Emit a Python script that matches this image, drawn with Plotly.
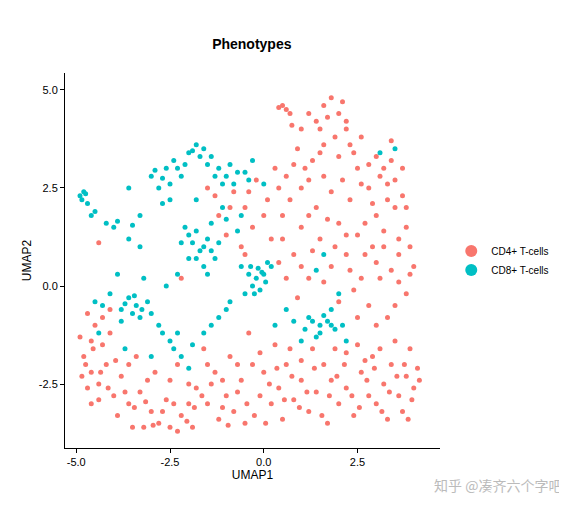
import plotly.graph_objects as go

red_pts = [(-4.8,-1.8),(-4.6,-2.2),(-4.4,-2.5),(-4.7,-2.6),(-4.2,-2.0),(-4.9,-1.3),(-4.5,-1.0),(-4.3,-1.5),(-4.0,-2.8),(-3.8,-2.3),(-3.6,-3.0),(-3.9,-3.3),(-3.3,-2.7),(-3.0,-3.2),(-2.8,-3.5),(-2.5,-3.6),(-2.2,-3.3),(-2.6,-2.9),(-3.2,-3.6),(-2.0,-3.0),(-1.8,-2.6),(-1.5,-3.0),(-1.2,-3.4),(-1.0,-2.8),(-0.8,-3.2),(-0.5,-3.5),(-0.6,-2.4),(-0.3,-2.0),(-0.9,-1.8),(-1.3,-2.2),(-0.1,-2.8),(0.2,-3.0),(0.0,-2.2),(0.4,-2.6),(0.6,-2.0),(0.8,-2.9),(1.0,-2.4),(1.2,-3.2),(1.4,-2.7),(1.6,-2.0),(1.8,-2.4),(2.0,-3.0),(2.2,-2.6),(2.4,-3.3),(2.6,-2.2),(2.8,-2.8),(3.0,-3.0),(3.2,-2.5),(3.4,-2.0),(3.6,-2.8),(3.8,-2.3),(4.0,-2.6),(3.7,-3.2),(3.3,-3.4),(2.9,-1.8),(2.5,-1.5),(1.3,-1.6),(0.3,-1.5),(-4.1,-0.6),(-3.4,-1.8),(-2.9,-2.2),(-2.3,-2.0),(-1.6,-1.6),(-0.4,-1.2),(3.9,-1.6),(4.1,-2.1),(-4.6,-3.0),(-3.5,-3.6),(-1.9,-3.6),(0.5,-3.4),(1.7,-3.5),(3.5,-1.4),
(0.6,4.5),(0.4,4.55),(0.7,4.4),(1.6,4.6),(1.8,4.8),(2.0,4.4),(1.4,4.2),(2.2,4.0),(1.9,3.8),(1.0,4.0),(0.9,3.5),(1.3,3.2),(2.0,3.3),(2.5,3.0),(3.0,3.3),(3.2,3.0),(3.4,3.2),(3.3,2.6),(2.8,2.5),(2.3,2.2),(1.8,2.4),(1.4,2.0),(1.0,2.5),(0.6,2.8),(0.3,3.0),(0.1,2.2),(0.5,1.8),(1.0,1.5),(1.5,1.2),(2.0,1.6),(2.5,1.3),(3.0,1.8),(3.5,2.0),(3.8,1.5),(3.6,0.8),(3.4,0.4),(3.0,0.6),(2.6,0.2),(2.2,0.8),(1.8,0.5),(1.2,0.2),(0.8,0.8),(0.4,0.6),(0.9,-0.3),(2.0,-0.4),(2.8,-0.5),(3.3,-0.8),(3.8,-0.2),(4.0,0.5),(3.9,1.0),(-0.5,2.0),(-0.8,2.4),(-1.2,1.8),(-1.0,1.3),(-0.6,1.0),(-0.3,1.5),(-1.5,2.5),(0.2,1.2),(-2.2,0.2),(-4.4,1.1),(2.3,3.6),(2.6,3.8),(1.1,3.0),(3.7,3.0),(2.9,1.0),
(-4.75,-2.0),(-4.55,-1.6),(-4.35,-2.2),(-4.15,-2.6),(-4.85,-2.3),(-4.4,-2.9),(-4.1,-1.2),(-3.95,-1.9),(-3.7,-2.7),(-3.45,-3.1),(-3.15,-2.95),(-2.95,-3.55),(-2.7,-3.2),(-2.4,-3.0),(-2.3,-3.7),(-2.05,-3.45),(-1.85,-3.1),(-1.65,-2.8),(-1.4,-2.5),(-1.1,-3.1),(-0.95,-3.55),(-0.7,-2.7),(-0.45,-3.0),(-0.25,-3.3),(0.05,-3.5),(0.15,-2.5),(0.35,-2.1),(0.55,-2.9),(0.75,-2.3),(0.95,-3.1),(1.15,-2.7),(1.35,-2.1),(1.55,-3.3),(1.75,-2.8),(1.95,-2.3),(2.15,-2.0),(2.35,-2.8),(2.55,-3.1),(2.75,-2.4),(2.95,-2.1),(3.15,-3.2),(3.35,-2.7),(3.55,-2.3),(3.75,-2.0),(3.95,-2.9),(4.15,-2.4),(3.85,-3.4),(3.1,-1.6),(2.7,-1.9),(2.2,-1.7),(1.9,-1.6),(1.0,-1.9),(0.7,-1.6),(-0.1,-1.7),(-0.7,-2.0),(-1.1,-2.4),(-1.5,-2.0),(-2.0,-2.5),(-2.5,-2.4),(-3.1,-2.4),(-3.6,-2.0),(-4.6,-1.4),(-4.3,-0.8),(-4.7,-0.7),
(0.5,4.6),(0.75,4.1),(1.2,4.4),(1.5,4.0),(1.7,4.3),(2.1,4.7),(2.2,4.2),(1.6,3.6),(2.4,3.4),(2.8,3.1),(3.1,2.8),(3.5,2.7),(3.7,2.3),(3.3,2.2),(2.9,2.1),(2.6,2.6),(2.1,2.7),(1.6,2.8),(1.2,2.7),(0.8,3.1),(0.4,2.5),(0.7,2.2),(1.2,1.8),(1.7,1.7),(2.2,1.3),(2.7,1.6),(3.2,1.4),(3.6,1.2),(3.2,1.0),(2.7,0.8),(2.3,0.4),(1.6,0.1),(1.0,0.5),(0.6,0.2),(0.5,1.2),(1.3,0.9),(1.9,1.0),(2.4,-0.1),(3.1,0.2),(3.6,0.1),(3.9,0.3),(3.5,-0.5),(3.0,-1.0),(2.5,-0.8),(-0.2,2.7),(0.0,1.8),(-0.4,2.4),(-0.9,2.0),(-1.3,2.3),(-0.5,0.8),(3.4,3.7),(1.5,3.4),(3.8,2.0)]
cyan_pts = [(-4.9,2.3),(-4.8,2.4),(-4.7,2.1),(-4.6,1.8),(-4.2,1.6),(-4.0,1.5),(-3.6,1.2),(-3.3,1.8),(-3.0,2.8),(-2.8,2.5),(-2.6,3.0),(-2.4,3.2),(-2.2,2.8),(-2.0,3.4),(-1.8,3.6),(-1.6,3.5),(-1.4,3.3),(-1.2,3.0),(-1.0,2.8),(-0.8,2.6),(-0.5,2.9),(-0.3,3.2),(0.0,2.6),(-1.8,2.2),(-2.1,1.5),(-1.9,1.1),(-1.7,0.9),(-1.5,1.2),(-1.3,0.7),(-1.6,0.5),(-2.0,0.7),(-1.4,1.6),(-0.6,0.5),(-0.4,0.3),(-0.2,0.2),(0.0,0.3),(-0.3,0.0),(-0.1,-0.1),(0.2,0.5),(-0.5,-0.2),(-3.6,-0.3),(-3.4,-0.5),(-3.8,-0.6),(-3.3,-0.8),(-3.1,-0.4),(-4.1,-0.2),(-4.5,-0.4),(-2.8,-1.0),(-2.5,-1.4),(-2.2,-1.8),(-2.0,-2.1),(-1.6,-1.2),(-1.2,-0.8),(-0.9,-0.4),(-3.9,0.3),(-3.2,0.2),(-2.6,0.0),(1.2,-0.8),(1.5,-1.0),(1.7,-0.9),(1.9,-1.1),(1.4,-1.3),(1.0,-1.4),(0.6,-0.6),(0.3,-1.0),(2.2,-1.4),(2.0,-0.2),(1.6,0.8),(1.4,0.4),(-4.4,-1.2),(-3.7,-1.6),(-3.0,-1.8),(-2.7,2.1),(-3.6,2.5),(-1.1,2.0),(-0.7,1.4),(3.5,3.5),(3.1,3.4),(1.8,-0.6),(-2.3,0.3),
(-4.85,2.2),(-4.75,2.35),(-4.5,1.9),(-3.9,1.65),(-3.5,1.55),(-2.9,2.95),(-2.7,2.75),(-2.5,2.6),(-2.3,3.0),(-2.1,3.1),(-1.9,3.45),(-1.7,3.3),(-1.5,3.1),(-1.3,2.8),(-1.1,2.6),(-0.9,3.1),(-0.7,2.9),(-0.4,2.7),(-2.0,1.3),(-1.8,1.4),(-1.6,1.0),(-1.4,0.9),(-1.2,1.1),(-1.8,0.7),(-2.2,1.1),(-1.5,0.3),(-0.35,0.5),(-0.15,0.45),(0.05,0.1),(-0.25,-0.2),(0.1,0.6),(-0.05,0.35),(-3.7,-0.45),(-3.5,-0.7),(-3.25,-0.6),(-3.0,-0.7),(-3.45,-0.25),(-3.8,-0.9),(-2.7,-1.2),(-2.4,-1.6),(-2.3,-1.2),(-1.9,-1.5),(-1.4,-1.0),(-1.0,-0.6),(1.3,-0.9),(1.6,-0.75),(1.8,-1.0),(1.1,-1.1),(2.1,-1.0),(1.5,-1.2),(0.8,-0.9),(-4.3,-0.5),(-2.5,2.2),(-3.3,1.0),(-1.0,1.7),(-0.6,1.8)]

fig = go.Figure()
for name, pts, col in [("CD4+ T-cells", red_pts, "#F8766D"), ("CD8+ T-cells", cyan_pts, "#00BFC4")]:
    fig.add_trace(go.Scatter(x=[p[0] for p in pts], y=[p[1] for p in pts], mode="markers", name=name,
                             marker=dict(color=col, size=5)))
ax = dict(showline=True, linecolor="black", linewidth=1, ticks="outside", ticklen=4, tickcolor="black",
          showgrid=False, zeroline=False, tickfont=dict(color="black", size=11), automargin=False)
fig.update_layout(
    width=567, height=520, plot_bgcolor="white", paper_bgcolor="white",
    font=dict(family="Liberation Sans, Arial", color="black"),
    title=dict(text="<b>Phenotypes</b>", x=0.43, y=0.94, xanchor="center", font=dict(size=14)),
    margin=dict(l=57, r=135, t=65, b=80),
    xaxis=dict(ax, range=[-5.3, 4.7], tickvals=[-5, -2.5, 0, 2.5], ticktext=["-5.0","-2.5","0.0","2.5"],
               title=dict(text="UMAP1", standoff=2, font=dict(size=12))),
    yaxis=dict(ax, range=[-4.13, 5.43], tickvals=[-2.5, 0, 2.5, 5], ticktext=["-2.5","0.0","2.5","5.0"],
               title=dict(text="UMAP2", standoff=4, font=dict(size=12))),
    legend=dict(x=1.03, y=0.5, yanchor="middle", font=dict(size=10), itemsizing="constant"),
    annotations=[dict(text="知乎 @凑齐六个字吧", xref="paper", yref="paper", x=1.33, y=-0.13,
                      xanchor="right", showarrow=False,
                      font=dict(family="Noto Sans CJK SC", size=14, color="#bbbbbb"))],
)
fig.write_html("out.html")
